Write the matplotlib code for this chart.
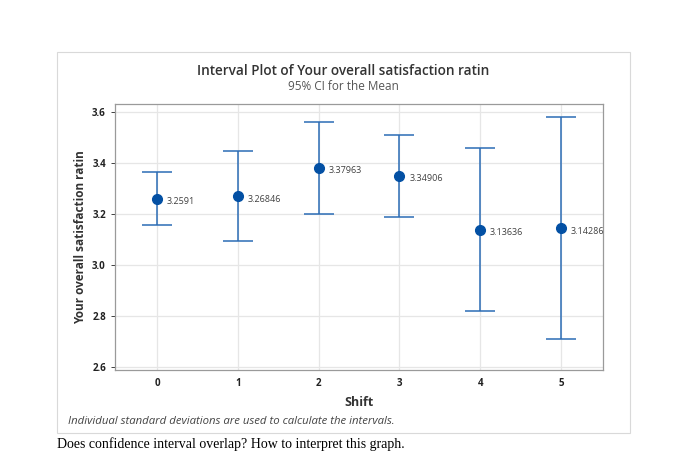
import matplotlib
matplotlib.use("Agg")
import matplotlib.pyplot as plt
from matplotlib.patches import Rectangle

plt.rcParams['font.family'] = ['Open Sans', 'Noto Sans', 'DejaVu Sans']

# data
shifts = [0, 1, 2, 3, 4, 5]
means = [3.2591, 3.26846, 3.37963, 3.34906, 3.13636, 3.14286]
lower = [3.155, 3.092, 3.199, 3.189, 2.819, 2.708]
upper = [3.362, 3.444, 3.560, 3.508, 3.456, 3.580]
mean_labels = ['3.2591', '3.26846', '3.37963', '3.34906', '3.13636', '3.14286']
yticks = [2.6, 2.8, 3.0, 3.2, 3.4, 3.6]

fig = plt.figure(figsize=(6.8, 4.62), dpi=100)
ax = fig.add_axes([0.169, 0.199, 0.718, 0.576])

# outer frame of the minitab graph
fig.patches.append(Rectangle((57 / 680, 1 - 433 / 462), 573 / 680, 381 / 462,
                             transform=fig.transFigure, fill=False,
                             edgecolor='#d9d9d9', linewidth=0.8))

err_lo = [m - l for m, l in zip(means, lower)]
err_hi = [u - m for m, u in zip(means, upper)]
ax.errorbar(shifts, means, yerr=[err_lo, err_hi], fmt='none',
            ecolor='#2b6cb5', elinewidth=1.1, capsize=11, capthick=1.1, zorder=3)
ax.plot(shifts, means, 'o', color='#0350a4', markersize=7, zorder=4)

for x, m, s in zip(shifts, means, mean_labels):
    ax.annotate(s, (x, m), xytext=(7, -2), textcoords='offset points',
                fontsize=6.5, color='#404040', va='center')

ax.set_xlim(-0.52, 5.52)
ax.set_ylim(2.588, 3.63)
ax.set_xticks(shifts)
ax.set_yticks(yticks)
ax.set_yticklabels([f'{t:.1f}' for t in yticks])
ax.tick_params(axis='both', labelsize=7, colors='#222222', length=3, width=0.6)
for lab in ax.get_xticklabels() + ax.get_yticklabels():
    lab.set_fontweight('bold')
ax.tick_params(axis='x', length=0, pad=6)
ax.grid(True, color='#e6e6e6', linewidth=0.9)
ax.set_axisbelow(True)
for sp in ax.spines.values():
    sp.set_color('#9a9a9a')
    sp.set_linewidth(0.9)

ax.set_xlabel('Shift', fontsize=9, color='#333333', fontweight='bold', labelpad=5)
ax.set_ylabel('Your overall satisfaction ratin', fontsize=8.5, color='#333333',
              fontweight='bold', labelpad=4)

fig.text(343 / 680, 1 - 71 / 462, 'Interval Plot of Your overall satisfaction ratin',
         ha='center', va='center', fontsize=9.8, color='#333333', fontweight=600)
fig.text(343 / 680, 1 - 87 / 462, '95% CI for the Mean',
         ha='center', va='center', fontsize=8.5, color='#555555')
fig.text(68 / 680, 1 - 421 / 462,
         'Individual standard deviations are used to calculate the intervals.',
         ha='left', va='center', fontsize=8.2, color='#444444', style='italic')
fig.text(57 / 680, 1 - 444 / 462,
         'Does confidence interval overlap? How to interpret this graph.',
         ha='left', va='center', fontsize=10, color='black', family='Liberation Serif')

fig.savefig('out.png', dpi=100)
